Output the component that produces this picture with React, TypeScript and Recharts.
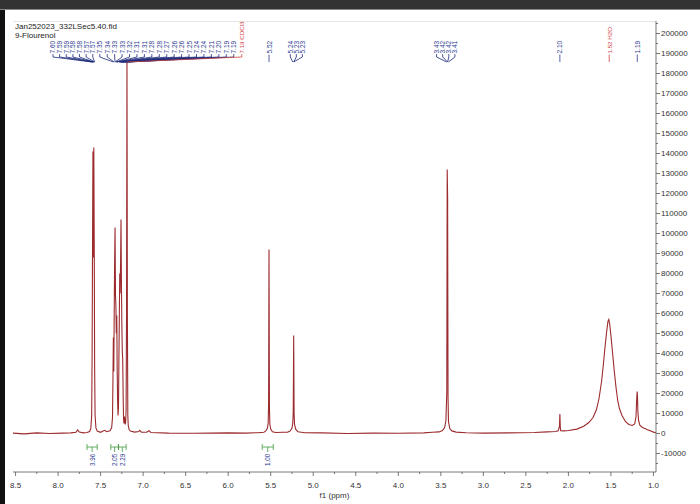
import { ComposedChart, Line, XAxis, YAxis, ReferenceLine, ReferenceDot } from 'recharts';

// 1H NMR spectrum of 9-fluorenol in CDCl3
const PPM = [
  8.53, 8.4, 8.25, 8.1, 7.95, 7.85, 7.79, 7.77, 7.75, 7.7, 7.66, 7.63, 7.615, 7.605, 7.6, 7.595, 7.59, 7.585, 7.58,
  7.575, 7.57, 7.565, 7.555, 7.54, 7.5, 7.47, 7.45, 7.43, 7.39, 7.37, 7.36, 7.355, 7.35, 7.345, 7.34, 7.335, 7.33,
  7.325, 7.32, 7.315, 7.31, 7.305, 7.3, 7.295, 7.29, 7.285, 7.28, 7.275, 7.27, 7.265, 7.26, 7.255, 7.25, 7.245, 7.24,
  7.235, 7.23, 7.225, 7.22, 7.215, 7.21, 7.205, 7.2, 7.195, 7.19, 7.185, 7.18, 7.175, 7.165, 7.15, 7.1, 7.05, 7.04,
  7.02, 6.96, 6.93, 6.91, 6.7, 6.4, 6.0, 5.8, 5.65, 5.58, 5.56, 5.54, 5.53, 5.525, 5.52, 5.515, 5.51, 5.5, 5.48, 5.44,
  5.36, 5.3, 5.27, 5.25, 5.24, 5.235, 5.23, 5.225, 5.22, 5.205, 5.18, 5.1, 4.9, 4.6, 4.3, 4.0, 3.7, 3.6, 3.52, 3.48,
  3.455, 3.44, 3.43, 3.425, 3.42, 3.415, 3.41, 3.395, 3.37, 3.32, 3.2, 3.0, 2.7, 2.4, 2.25, 2.15, 2.12, 2.105, 2.1,
  2.095, 2.09, 2.05, 2.0, 1.9, 1.82, 1.76, 1.71, 1.67, 1.64, 1.61, 1.59, 1.57, 1.55, 1.535, 1.525, 1.515, 1.5, 1.48,
  1.46, 1.44, 1.42, 1.4, 1.37, 1.33, 1.29, 1.25, 1.22, 1.205, 1.198, 1.192, 1.188, 1.183, 1.175, 1.16, 1.13, 1.1,
  1.07, 1.03, 1.0, 0.97,
];
const INTENSITY = [
  200, -200, 300, 0, 200, 300, 600, 1800, 700, 300, 500, 1000, 2500, 9000, 38000, 92000, 141000, 88000, 143000,
  96000, 32000, 9000, 2800, 1200, 600, 1200, 1600, 900, 1400, 3000, 8000, 26000, 48000, 31000, 60000, 86000, 103000,
  69000, 64000, 50000, 59000, 32000, 16000, 9000, 13000, 36000, 58000, 80000, 70000, 86000, 107000, 74000, 54000, 41000, 37000,
  19000, 7000, 5000, 8500, 6500, 4500, 6000, 12000, 60000, 186000, 58000, 9000, 4000, 2000, 1200, 700, 1000, 1600,
  700, 600, 1400, 500, 200, 100, 300, 200, 400, 600, 1200, 2500, 5000, 14000, 92000, 13000, 4500, 2200, 900, 500,
  600, 700, 1300, 2600, 5500, 11000, 49000, 10000, 4500, 2000, 900, 400, 300, 0, 200, 100, 300, 600, 800, 1500,
  3000, 6500, 20000, 132000, 118000, 18000, 6000, 2500, 1300, 700, 400, 200, 300, 500, 800, 1000, 1300, 3500, 9800,
  3000, 1400, 1300, 1500, 2200, 3600, 5500, 8000, 12000, 17500, 26000, 34000, 43000, 51000, 56000, 57000, 55000, 49000, 40000,
  31000, 23000, 16500, 12500, 9000, 6000, 4500, 4000, 4800, 8500, 16000, 21000, 19000, 11000, 6500, 4200, 3000, 2500,
  1900, 1200, 700, 400,
];

// peak picking labels
const LABELS_758 = ['7.60', '7.59', '7.59', '7.58', '7.58', '7.57', '7.57'];
const LABELS_730 = [
  '7.35', '7.34', '7.33', '7.33', '7.32', '7.31', '7.31', '7.28', '7.28', '7.27',
  '7.26', '7.26', '7.25', '7.24', '7.24', '7.21', '7.20', '7.19', '7.19',
];
const LABELS_523 = ['5.24', '5.23', '5.23'];
const LABELS_342 = ['3.43', '3.42', '3.42', '3.41'];
const SINGLE_LABELS = ['5.52', '2.10', '1.19'];
const SOLVENT_LABELS = ['1.52 H2O'];
const CDCL3_LABEL = '7.19 CDCl3';

// integrals
const INTEGRAL_FROM = [7.66, 7.38, 7.29, 5.6];
const INTEGRAL_TO = [7.54, 7.29, 7.2, 5.47];
const INTEGRAL_VALUES = ['3.96', '2.05', '2.29', '1.00'];

const X_MAJOR = [8.5, 8.0, 7.5, 7.0, 6.5, 6.0, 5.5, 5.0, 4.5, 4.0, 3.5, 3.0, 2.5, 2.0, 1.5, 1.0];
const X_MINOR = [8.25, 7.75, 7.25, 6.75, 6.25, 5.75, 5.25, 4.75, 4.25, 3.75, 3.25, 2.75, 2.25, 1.75, 1.25];
const Y_MAJOR = [
  -10000, 0, 10000, 20000, 30000, 40000, 50000, 60000, 70000, 80000, 90000, 100000, 110000,
  120000, 130000, 140000, 150000, 160000, 170000, 180000, 190000, 200000,
];
const Y_MINOR = [-15000, ...Y_MAJOR.map((v) => v + 5000)];

const spectrum = PPM.map((p, i) => ({ ppm: p, y: INTENSITY[i] }));

const FONT = '"Liberation Sans", Arial, sans-serif';
const BLUE = '#2b3990';
const NAVY = '#1c2a7a';
const RED = '#d0443f';
const GREEN = '#3c9a3c';
const AXIS = '#555';

// vertical layout of the annotations, in intensity units
const FAN_BOTTOM = 185750;
const FAN_TOP = 188250;
const TEXT_BASE = 190000;
const BAR_Y = -6750;
const NUM_BASE = -16250;

// where the multiplet labels sit (first label ppm, spacing)
const groups = [
  { labels: LABELS_758, start: 8.06, step: 0.078 },
  { labels: LABELS_730, start: 7.51, step: 0.0875 },
  { labels: LABELS_523, start: 5.27, step: 0.071 },
  { labels: LABELS_342, start: 3.55, step: 0.072 },
];
const fanLabels = groups.flatMap((g) =>
  g.labels.map((t, i) => ({ text: t, at: g.start - i * g.step, peak: parseFloat(t), color: BLUE, line: NAVY }))
);
fanLabels.push({ text: CDCL3_LABEL, at: 5.84, peak: parseFloat(CDCL3_LABEL), color: RED, line: RED });
const singles = [
  ...SINGLE_LABELS.map((t) => ({ text: t, peak: parseFloat(t), color: BLUE })),
  ...SOLVENT_LABELS.map((t) => ({ text: t, peak: parseFloat(t), color: RED })),
];

const vText = (text: string, color: string, size: number) => (p: any) => (
  <text
    x={p.cx}
    y={p.cy}
    transform={`rotate(-90 ${p.cx} ${p.cy})`}
    textAnchor="start"
    dominantBaseline="central"
    fontFamily={FONT}
    fontSize={size}
    fill={color}
  >
    {text}
  </text>
);

const XTick = ({ x, y, payload }: any) => {
  const major = X_MAJOR.includes(payload.value);
  return (
    <g>
      <line x1={x} y1={y} x2={x} y2={y + (major ? 4 : 2)} stroke={AXIS} strokeWidth={0.8} />
      {major && (
        <text x={x} y={y + 13} textAnchor="middle" dominantBaseline="central" fontFamily={FONT} fontSize={8} fill="#333">
          {payload.value.toFixed(1)}
        </text>
      )}
    </g>
  );
};

const YTick = ({ x, y, payload }: any) => {
  const major = Y_MAJOR.includes(payload.value);
  return (
    <g>
      <line x1={x} y1={y} x2={x + (major ? 4 : 2)} y2={y} stroke={AXIS} strokeWidth={0.8} />
      {major && (
        <text x={x + 5} y={y} textAnchor="start" dominantBaseline="central" fontFamily={FONT} fontSize={8} fill="#333">
          {payload.value}
        </text>
      )}
    </g>
  );
};

export default function App() {
  return (
    <div style={{ position: 'absolute', left: 0, top: 0, width: 700, height: 504, background: '#fff', overflow: 'hidden' }}>
      <div style={{ position: 'absolute', left: 0, top: 0, width: 700, height: 9, background: '#333' }} />
      <div style={{ position: 'absolute', left: 0, top: 9, width: 700, height: 1, background: '#888' }} />
      <div style={{ position: 'absolute', left: 0, top: 10, width: 5, height: 494, background: '#111' }} />
      <div style={{ position: 'absolute', left: 13, top: 21, width: 643, height: 1, background: '#e6e6e6' }} />
      <div
        style={{
          position: 'absolute',
          left: 15,
          top: 22,
          fontFamily: FONT,
          fontSize: 8,
          lineHeight: '9px',
          color: '#222',
          whiteSpace: 'pre',
        }}
      >
        {'Jan252023_332LSec5.40.fid\n9-Flourenol'}
      </div>
      <div style={{ position: 'absolute', left: 5, top: 11 }}>
        <ComposedChart width={695} height={493} data={spectrum} margin={{ top: 10, right: 0, bottom: 0, left: 8 }}>
          <XAxis
            dataKey="ppm"
            type="number"
            reversed
            domain={[0.97, 8.53]}
            allowDataOverflow
            ticks={[...X_MAJOR, ...X_MINOR].sort((a, b) => b - a)}
            interval={0}
            tickLine={false}
            tickSize={0}
            tickMargin={0}
            axisLine={{ stroke: AXIS, strokeWidth: 0.8 }}
            height={32}
            tick={<XTick />}
            label={{ value: 'f1 (ppm)', position: 'insideBottom', offset: 6, fontFamily: FONT, fontSize: 8, fill: '#333' }}
          />
          <YAxis
            orientation="right"
            type="number"
            domain={[-19250, 206250]}
            allowDataOverflow
            ticks={[...Y_MINOR, ...Y_MAJOR].sort((a, b) => a - b)}
            interval={0}
            tickLine={false}
            tickSize={0}
            tickMargin={0}
            axisLine={{ stroke: AXIS, strokeWidth: 0.8 }}
            width={44}
            tick={<YTick />}
          />
          <Line
            dataKey="y"
            stroke="#9c2b2e"
            strokeWidth={1.1}
            dot={false}
            isAnimationActive={false}
          />

          {fanLabels.map((l, i) => (
            <ReferenceLine
              key={`fv${i}`}
              segment={[{ x: l.at, y: TEXT_BASE - 300 }, { x: l.at, y: FAN_TOP }]}
              stroke={l.line}
              strokeWidth={0.8}
              ifOverflow="visible"
            />
          ))}
          {fanLabels.map((l, i) => (
            <ReferenceLine
              key={`fd${i}`}
              segment={[{ x: l.at, y: FAN_TOP }, { x: l.peak, y: FAN_BOTTOM }]}
              stroke={l.line}
              strokeWidth={0.8}
              ifOverflow="visible"
            />
          ))}
          {fanLabels.map((l, i) => (
            <ReferenceDot
              key={`ft${i}`}
              x={l.at}
              y={TEXT_BASE}
              r={0}
              ifOverflow="visible"
              shape={vText(l.text, l.color, l.color === RED ? 6.2 : 6.5)}
            />
          ))}
          {singles.map((l, i) => (
            <ReferenceLine
              key={`sv${i}`}
              segment={[{ x: l.peak, y: TEXT_BASE - 500 }, { x: l.peak, y: FAN_BOTTOM }]}
              stroke={l.color}
              strokeWidth={0.8}
              ifOverflow="visible"
            />
          ))}
          {singles.map((l, i) => (
            <ReferenceDot
              key={`st${i}`}
              x={l.peak}
              y={TEXT_BASE}
              r={0}
              ifOverflow="visible"
              shape={vText(l.text, l.color, l.color === RED ? 6.2 : 6.5)}
            />
          ))}

          {INTEGRAL_VALUES.map((v, i) => {
            const a = INTEGRAL_FROM[i];
            const b = INTEGRAL_TO[i];
            const mid = (a + b) / 2;
            return [
              <ReferenceLine key={`ib${i}`} segment={[{ x: a, y: BAR_Y }, { x: b, y: BAR_Y }]} stroke={GREEN} strokeWidth={0.8} />,
              <ReferenceLine key={`il${i}`} segment={[{ x: a, y: BAR_Y + 1500 }, { x: a, y: BAR_Y - 1500 }]} stroke={GREEN} strokeWidth={0.8} />,
              <ReferenceLine key={`ir${i}`} segment={[{ x: b, y: BAR_Y + 1500 }, { x: b, y: BAR_Y - 1500 }]} stroke={GREEN} strokeWidth={0.8} />,
              <ReferenceLine key={`ic${i}`} segment={[{ x: mid, y: BAR_Y }, { x: mid, y: BAR_Y - 2500 }]} stroke={GREEN} strokeWidth={0.8} />,
              <ReferenceDot key={`in${i}`} x={mid} y={NUM_BASE} r={0} ifOverflow="visible" shape={vText(v, BLUE, 6.3)} />,
            ];
          })}
        </ComposedChart>
      </div>
    </div>
  );
}
